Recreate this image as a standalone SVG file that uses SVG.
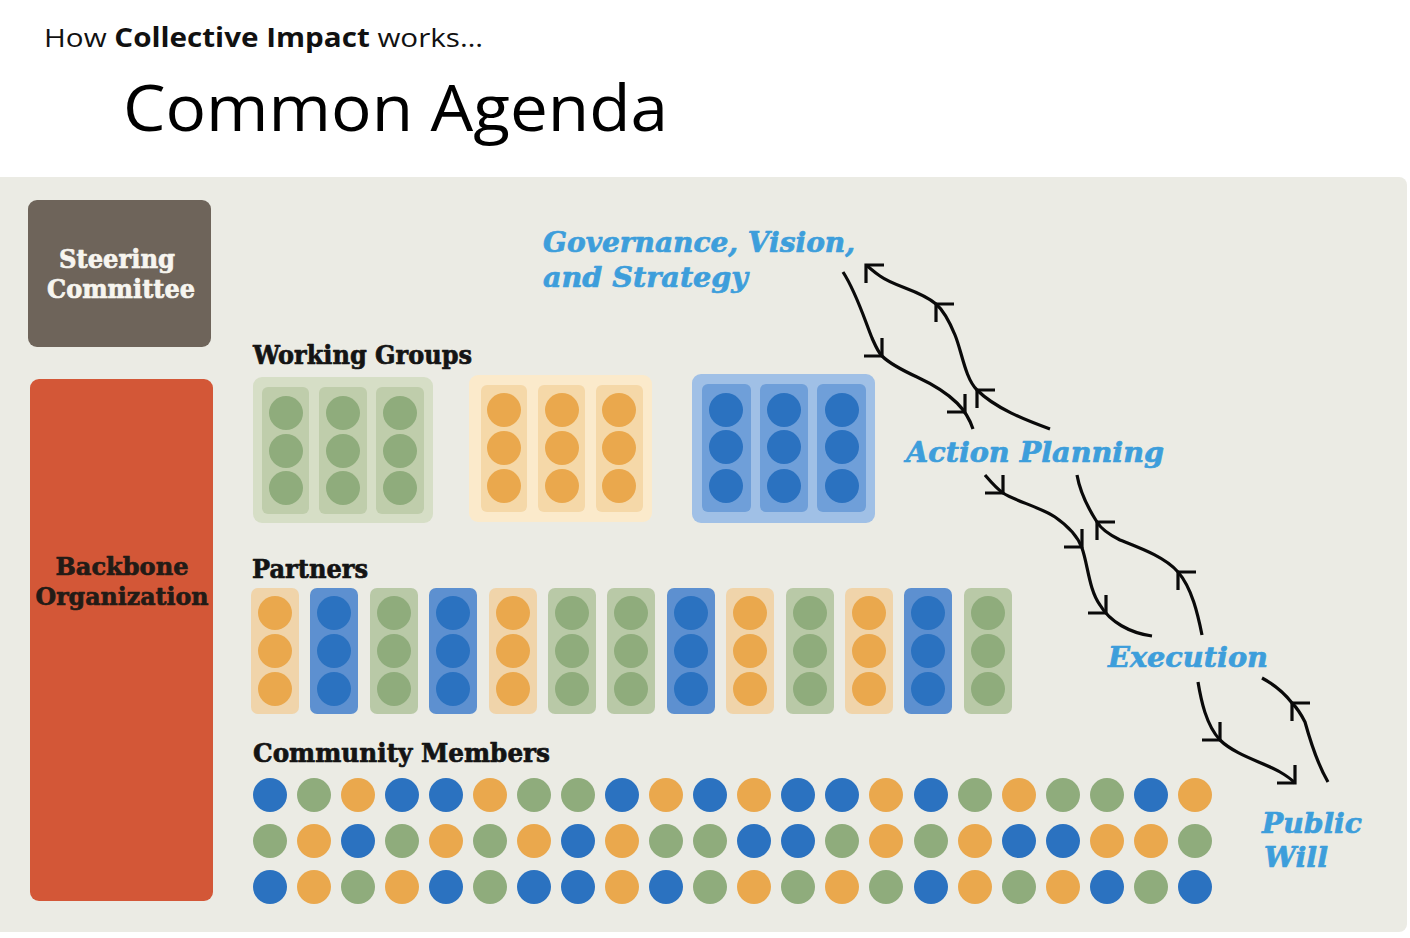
<svg xmlns="http://www.w3.org/2000/svg" xmlns:xlink="http://www.w3.org/1999/xlink" width="1410" height="938" viewBox="0 0 1410 938">
<style>
.slab{font-family:"DejaVu Serif","Liberation Serif",serif;font-weight:bold;stroke-width:0.7px;stroke-linejoin:round}
.lbl{fill:#141414;stroke:#141414;font-size:26px}
.stage{fill:#3d9edb;stroke:#3d9edb;font-size:28px;font-style:italic}
.b{fill:#2b72c0}.g{fill:#8fac7c}.o{fill:#eaa84d}
.cb{fill:#5d90d0}.cg{fill:#b9c9a7}.co{fill:#f0d4aa}
.arrow{fill:none;stroke:#0a0a0a;stroke-width:3.2;stroke-linecap:butt;stroke-linejoin:miter}
</style>
<defs>
<path id="headDR" d="M0,-18 V0 H-18" class="arrow"/>
<path id="headUL" d="M18,0 H0 V18" class="arrow"/>
</defs>
<rect width="1410" height="938" fill="#ffffff"/>
<rect x="-10" y="177" width="1417" height="755" rx="8" fill="#ebebe4"/>

<g id="title">
<text x="44" y="47" font-family="'Open Sans','Liberation Sans',sans-serif" font-size="26" fill="#111" textLength="439" lengthAdjust="spacingAndGlyphs">How <tspan font-weight="bold">Collective Impact</tspan> works…</text>
<text x="123" y="131" font-family="'Open Sans','Liberation Sans',sans-serif" font-size="64" fill="#000" textLength="545" lengthAdjust="spacingAndGlyphs">Common Agenda</text>
</g>

<g id="steering-committee">
<rect x="28" y="200" width="183" height="147" rx="9" fill="#6e645a"/>
<text class="slab" font-size="26" fill="#f7f5ef" stroke="#f7f5ef" text-anchor="middle" x="117" y="268" textLength="116" lengthAdjust="spacingAndGlyphs">Steering</text>
<text class="slab" font-size="26" fill="#f7f5ef" stroke="#f7f5ef" text-anchor="middle" x="121" y="298" textLength="148" lengthAdjust="spacingAndGlyphs">Committee</text>
</g>

<g id="backbone-organization">
<rect x="30" y="379" width="183" height="522" rx="9" fill="#d35737"/>
<text class="slab" font-size="25" fill="#221b16" stroke="#221b16" text-anchor="middle" x="122" y="575" textLength="133" lengthAdjust="spacingAndGlyphs">Backbone</text>
<text class="slab" font-size="25" fill="#221b16" stroke="#221b16" text-anchor="middle" x="122" y="605" textLength="173" lengthAdjust="spacingAndGlyphs">Organization</text>
</g>

<g id="working-groups">
<text class="slab lbl" x="253" y="364" textLength="219" lengthAdjust="spacingAndGlyphs">Working Groups</text>
<g id="wg-green">
<rect x="253" y="377" width="180" height="146" rx="9" fill="#d6dec6"/>
<rect x="262" y="387" width="47" height="127" rx="6" fill="#bfcdab"/>
<rect x="319" y="387" width="48" height="127" rx="6" fill="#bfcdab"/>
<rect x="376" y="387" width="48" height="127" rx="6" fill="#bfcdab"/>
<circle class="g" cx="286" cy="413" r="17"/><circle class="g" cx="286" cy="451" r="17"/><circle class="g" cx="286" cy="488" r="17"/>
<circle class="g" cx="343" cy="413" r="17"/><circle class="g" cx="343" cy="451" r="17"/><circle class="g" cx="343" cy="488" r="17"/>
<circle class="g" cx="400" cy="413" r="17"/><circle class="g" cx="400" cy="451" r="17"/><circle class="g" cx="400" cy="488" r="17"/>
</g>
<g id="wg-orange">
<rect x="469" y="375" width="183" height="147" rx="9" fill="#fbeacb"/>
<rect x="481" y="385" width="46" height="127" rx="6" fill="#f5d8a8"/>
<rect x="538" y="385" width="47" height="127" rx="6" fill="#f5d8a8"/>
<rect x="596" y="385" width="47" height="127" rx="6" fill="#f5d8a8"/>
<circle class="o" cx="504" cy="410" r="17"/><circle class="o" cx="504" cy="448" r="17"/><circle class="o" cx="504" cy="486" r="17"/>
<circle class="o" cx="562" cy="410" r="17"/><circle class="o" cx="562" cy="448" r="17"/><circle class="o" cx="562" cy="486" r="17"/>
<circle class="o" cx="619" cy="410" r="17"/><circle class="o" cx="619" cy="448" r="17"/><circle class="o" cx="619" cy="486" r="17"/>
</g>
<g id="wg-blue">
<rect x="692" y="374" width="183" height="149" rx="9" fill="#a0c0e6"/>
<rect x="702" y="384" width="49" height="128" rx="6" fill="#6f9fd9"/>
<rect x="760" y="384" width="48" height="128" rx="6" fill="#6f9fd9"/>
<rect x="817" y="384" width="49" height="128" rx="6" fill="#6f9fd9"/>
<circle class="b" cx="726" cy="410" r="17"/><circle class="b" cx="726" cy="447" r="17"/><circle class="b" cx="726" cy="486" r="17"/>
<circle class="b" cx="784" cy="410" r="17"/><circle class="b" cx="784" cy="447" r="17"/><circle class="b" cx="784" cy="486" r="17"/>
<circle class="b" cx="842" cy="410" r="17"/><circle class="b" cx="842" cy="447" r="17"/><circle class="b" cx="842" cy="486" r="17"/>
</g>
</g>

<g id="partners">
<text class="slab lbl" x="252" y="578" textLength="116" lengthAdjust="spacingAndGlyphs">Partners</text>
<g id="p1"><rect class="co" x="251" y="588" width="48" height="126" rx="7"/><circle class="o" cx="275" cy="613" r="17"/><circle class="o" cx="275" cy="651" r="17"/><circle class="o" cx="275" cy="689" r="17"/></g>
<g id="p2"><rect class="cb" x="310" y="588" width="48" height="126" rx="7"/><circle class="b" cx="334" cy="613" r="17"/><circle class="b" cx="334" cy="651" r="17"/><circle class="b" cx="334" cy="689" r="17"/></g>
<g id="p3"><rect class="cg" x="370" y="588" width="48" height="126" rx="7"/><circle class="g" cx="394" cy="613" r="17"/><circle class="g" cx="394" cy="651" r="17"/><circle class="g" cx="394" cy="689" r="17"/></g>
<g id="p4"><rect class="cb" x="429" y="588" width="48" height="126" rx="7"/><circle class="b" cx="453" cy="613" r="17"/><circle class="b" cx="453" cy="651" r="17"/><circle class="b" cx="453" cy="689" r="17"/></g>
<g id="p5"><rect class="co" x="489" y="588" width="48" height="126" rx="7"/><circle class="o" cx="513" cy="613" r="17"/><circle class="o" cx="513" cy="651" r="17"/><circle class="o" cx="513" cy="689" r="17"/></g>
<g id="p6"><rect class="cg" x="548" y="588" width="48" height="126" rx="7"/><circle class="g" cx="572" cy="613" r="17"/><circle class="g" cx="572" cy="651" r="17"/><circle class="g" cx="572" cy="689" r="17"/></g>
<g id="p7"><rect class="cg" x="607" y="588" width="48" height="126" rx="7"/><circle class="g" cx="631" cy="613" r="17"/><circle class="g" cx="631" cy="651" r="17"/><circle class="g" cx="631" cy="689" r="17"/></g>
<g id="p8"><rect class="cb" x="667" y="588" width="48" height="126" rx="7"/><circle class="b" cx="691" cy="613" r="17"/><circle class="b" cx="691" cy="651" r="17"/><circle class="b" cx="691" cy="689" r="17"/></g>
<g id="p9"><rect class="co" x="726" y="588" width="48" height="126" rx="7"/><circle class="o" cx="750" cy="613" r="17"/><circle class="o" cx="750" cy="651" r="17"/><circle class="o" cx="750" cy="689" r="17"/></g>
<g id="p10"><rect class="cg" x="786" y="588" width="48" height="126" rx="7"/><circle class="g" cx="810" cy="613" r="17"/><circle class="g" cx="810" cy="651" r="17"/><circle class="g" cx="810" cy="689" r="17"/></g>
<g id="p11"><rect class="co" x="845" y="588" width="48" height="126" rx="7"/><circle class="o" cx="869" cy="613" r="17"/><circle class="o" cx="869" cy="651" r="17"/><circle class="o" cx="869" cy="689" r="17"/></g>
<g id="p12"><rect class="cb" x="904" y="588" width="48" height="126" rx="7"/><circle class="b" cx="928" cy="613" r="17"/><circle class="b" cx="928" cy="651" r="17"/><circle class="b" cx="928" cy="689" r="17"/></g>
<g id="p13"><rect class="cg" x="964" y="588" width="48" height="126" rx="7"/><circle class="g" cx="988" cy="613" r="17"/><circle class="g" cx="988" cy="651" r="17"/><circle class="g" cx="988" cy="689" r="17"/></g>
</g>

<g id="community-members">
<text class="slab lbl" x="253" y="762" textLength="297" lengthAdjust="spacingAndGlyphs">Community Members</text>
<g id="row1">
<circle class="b" cx="270" cy="795" r="17"/><circle class="g" cx="314" cy="795" r="17"/><circle class="o" cx="358" cy="795" r="17"/><circle class="b" cx="402" cy="795" r="17"/><circle class="b" cx="446" cy="795" r="17"/><circle class="o" cx="490" cy="795" r="17"/><circle class="g" cx="534" cy="795" r="17"/><circle class="g" cx="578" cy="795" r="17"/><circle class="b" cx="622" cy="795" r="17"/><circle class="o" cx="666" cy="795" r="17"/><circle class="b" cx="710" cy="795" r="17"/><circle class="o" cx="754" cy="795" r="17"/><circle class="b" cx="798" cy="795" r="17"/><circle class="b" cx="842" cy="795" r="17"/><circle class="o" cx="886" cy="795" r="17"/><circle class="b" cx="931" cy="795" r="17"/><circle class="g" cx="975" cy="795" r="17"/><circle class="o" cx="1019" cy="795" r="17"/><circle class="g" cx="1063" cy="795" r="17"/><circle class="g" cx="1107" cy="795" r="17"/><circle class="b" cx="1151" cy="795" r="17"/><circle class="o" cx="1195" cy="795" r="17"/>
</g>
<g id="row2">
<circle class="g" cx="270" cy="841" r="17"/><circle class="o" cx="314" cy="841" r="17"/><circle class="b" cx="358" cy="841" r="17"/><circle class="g" cx="402" cy="841" r="17"/><circle class="o" cx="446" cy="841" r="17"/><circle class="g" cx="490" cy="841" r="17"/><circle class="o" cx="534" cy="841" r="17"/><circle class="b" cx="578" cy="841" r="17"/><circle class="o" cx="622" cy="841" r="17"/><circle class="g" cx="666" cy="841" r="17"/><circle class="g" cx="710" cy="841" r="17"/><circle class="b" cx="754" cy="841" r="17"/><circle class="b" cx="798" cy="841" r="17"/><circle class="g" cx="842" cy="841" r="17"/><circle class="o" cx="886" cy="841" r="17"/><circle class="g" cx="931" cy="841" r="17"/><circle class="o" cx="975" cy="841" r="17"/><circle class="b" cx="1019" cy="841" r="17"/><circle class="b" cx="1063" cy="841" r="17"/><circle class="o" cx="1107" cy="841" r="17"/><circle class="o" cx="1151" cy="841" r="17"/><circle class="g" cx="1195" cy="841" r="17"/>
</g>
<g id="row3">
<circle class="b" cx="270" cy="887" r="17"/><circle class="o" cx="314" cy="887" r="17"/><circle class="g" cx="358" cy="887" r="17"/><circle class="o" cx="402" cy="887" r="17"/><circle class="b" cx="446" cy="887" r="17"/><circle class="g" cx="490" cy="887" r="17"/><circle class="b" cx="534" cy="887" r="17"/><circle class="b" cx="578" cy="887" r="17"/><circle class="o" cx="622" cy="887" r="17"/><circle class="b" cx="666" cy="887" r="17"/><circle class="g" cx="710" cy="887" r="17"/><circle class="o" cx="754" cy="887" r="17"/><circle class="g" cx="798" cy="887" r="17"/><circle class="o" cx="842" cy="887" r="17"/><circle class="g" cx="886" cy="887" r="17"/><circle class="b" cx="931" cy="887" r="17"/><circle class="o" cx="975" cy="887" r="17"/><circle class="g" cx="1019" cy="887" r="17"/><circle class="o" cx="1063" cy="887" r="17"/><circle class="b" cx="1107" cy="887" r="17"/><circle class="g" cx="1151" cy="887" r="17"/><circle class="b" cx="1195" cy="887" r="17"/>
</g>
</g>

<g id="stage-governance">
<text class="slab stage" x="543" y="252" textLength="312" lengthAdjust="spacingAndGlyphs">Governance, Vision,</text>
<text class="slab stage" x="543" y="287" textLength="205" lengthAdjust="spacingAndGlyphs">and Strategy</text>
</g>
<g id="stage-action-planning">
<text class="slab stage" x="906" y="462" textLength="258" lengthAdjust="spacingAndGlyphs">Action Planning</text>
</g>
<g id="stage-execution">
<text class="slab stage" x="1108" y="667" textLength="160" lengthAdjust="spacingAndGlyphs">Execution</text>
</g>
<g id="stage-public-will">
<text class="slab stage" x="1262" y="833" textLength="100" lengthAdjust="spacingAndGlyphs">Public</text>
<text class="slab stage" x="1264" y="867" textLength="64" lengthAdjust="spacingAndGlyphs">Will</text>
</g>

<g id="connectors">
<path class="arrow" d="M843,272 C856,292 864,318 872,338 C876,347 878,352 882,356 C890,364 904,371 917,377 C932,384 948,394 957,403 C965,411 970,420 973,429"/>
<use href="#headDR" x="882" y="356"/>
<use href="#headDR" x="965" y="412"/>
<path class="arrow" d="M1050,429 C1025,420 995,408 977,390 C965,378 962,352 955,335 C948,318 943,310 936,304 C920,290 895,287 880,276 C874,272 870,268 866,265"/>
<use href="#headUL" x="977" y="390"/>
<use href="#headUL" x="936" y="304"/>
<use href="#headUL" x="866" y="265"/>
<path class="arrow" d="M985,475 C991,482 996,488 1003,493 C1015,501 1040,507 1055,517 C1068,526 1078,537 1082,548 C1088,565 1089,590 1100,605 C1110,622 1130,633 1152,636"/>
<use href="#headDR" x="1003" y="493"/>
<use href="#headDR" x="1082" y="547"/>
<use href="#headDR" x="1106" y="613"/>
<path class="arrow" d="M1202,635 C1198,615 1192,588 1178,572 C1165,557 1140,548 1120,540 C1110,535 1101,529 1097,522 C1088,508 1080,492 1077,475"/>
<use href="#headUL" x="1178" y="572"/>
<use href="#headUL" x="1097" y="522"/>
<path class="arrow" d="M1198,682 C1201,700 1206,725 1220,740 C1235,755 1265,763 1280,772 C1287,776 1292,780 1295,783"/>
<use href="#headDR" x="1220" y="740"/>
<use href="#headDR" x="1295" y="783"/>
<path class="arrow" d="M1328,782 C1318,765 1310,740 1305,722 C1300,712 1296,707 1292,703 C1285,694 1275,685 1262,678"/>
<use href="#headUL" x="1292" y="703"/>
</g>
</svg>
